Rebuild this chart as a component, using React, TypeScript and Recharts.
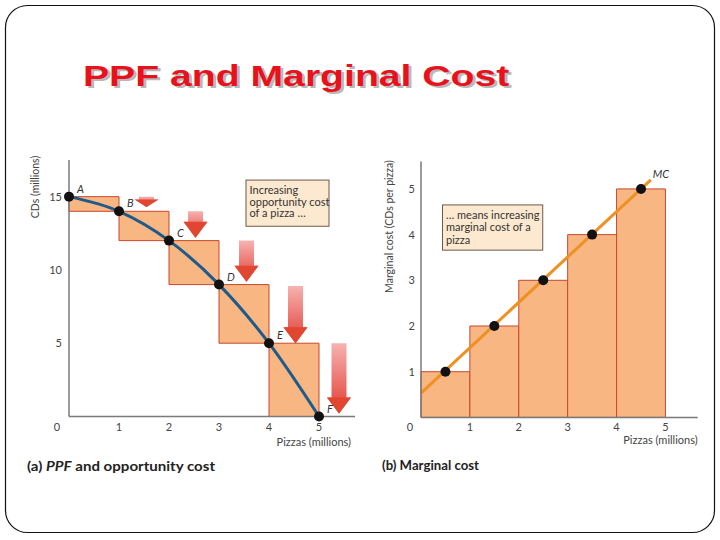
import React from 'react';
import {
  ComposedChart,
  Line,
  XAxis,
  YAxis,
  ReferenceArea,
  ReferenceLine,
  ReferenceDot,
  LabelList,
} from 'recharts';

// Panel (a): production possibilities frontier
const pizzas = [0, 1, 2, 3, 4, 5];
const cds = [15, 14, 12, 9, 5, 0];
const pointNames = ['A', 'B', 'C', 'D', 'E', 'F'];
const ppfXTicks = [0, 1, 2, 3, 4, 5];
const ppfYTicks = [5, 10, 15];

// Opportunity-cost arrows: centre x, top and bottom in CDs
const arrowX = [1.55, 2.53, 3.55, 4.53, 5.4];
const arrowTop = [15, 14, 12, 8.9, 5];
const arrowBottom = [14.3, 12.2, 9.2, 5.0, 0.2];

// Panel (b): marginal cost
const mcMidpoints = [0.5, 1.5, 2.5, 3.5, 4.5];
const mcValues = [1, 2, 3, 4, 5];
const mcLineStart = { x: 0, y: 0.53 };
const mcLineEnd = { x: 4.7, y: 5.2 };
const mcXTicks = [0, 1, 2, 3, 4, 5];
const mcYTicks = [1, 2, 3, 4, 5];

const ppfNote = ['Increasing', 'opportunity cost', 'of a pizza …'];
const mcNote = ['… means increasing', 'marginal cost of a', 'pizza'];

const ppfData = pizzas.map((p, i) => ({ pizzas: p, cds: cds[i], name: pointNames[i] }));
const mcData = mcMidpoints.map((x, i) => ({ x, mc: mcValues[i] }));

const FONT = 'Lato, "Open Sans", sans-serif';
const BOX_FILL = '#f8b682';
const BOX_STROKE = '#c9472f';
const AXIS = '#7a7a7a';
const TICK = '#444';
const AXIS_W = 30;

const makeXTick = (zeroShift: number) => (props: any) => {
  const { x, y, payload } = props;
  const dx = payload.value === 0 ? zeroShift : 0;
  return (
    <text x={x + dx} y={y + 14} textAnchor="middle" fontSize={11} fill={TICK} fontFamily={FONT}>
      {payload.value}
    </text>
  );
};

const makeYTick = (gap: number) => (props: any) => {
  const { x, y, payload } = props;
  return (
    <text x={x - gap} y={y + 4} textAnchor="end" fontSize={11} fill={TICK} fontFamily={FONT}>
      {payload.value}
    </text>
  );
};

const arrowShape = (id: string) => (props: any) => {
  const { x, y, width, height } = props;
  const cx = x + width / 2;
  const shaft = 7.5;
  const half = width / 2;
  const head = Math.min(16, height * 0.72);
  const neck = y + height - head;
  const pts = [
    [cx - shaft, y],
    [cx + shaft, y],
    [cx + shaft, neck],
    [cx + half, neck],
    [cx, y + height],
    [cx - half, neck],
    [cx - shaft, neck],
  ]
    .map((p) => p.join(','))
    .join(' ');
  return (
    <g>
      <defs>
        <linearGradient id={id} x1="0" y1="0" x2="0" y2="1">
          <stop offset="0%" stopColor="#f6b3b0" />
          <stop offset="70%" stopColor="#e9605a" />
          <stop offset="100%" stopColor="#de3a26" />
        </linearGradient>
      </defs>
      <polygon points={pts} fill={`url(#${id})`} />
      <polygon
        points={[
          [cx + half, neck],
          [cx, y + height],
          [cx - half, neck],
        ]
          .map((p) => p.join(','))
          .join(' ')}
        fill="#e04630"
      />
    </g>
  );
};

const noteShape = (lines: string[], lineGap: number) => (props: any) => {
  const { x, y, width, height } = props;
  return (
    <g>
      <rect x={x} y={y} width={width} height={height} fill="#fde9cf" stroke="#6b5a4a" strokeWidth={1} />
      {lines.map((t, i) => (
        <text
          key={i}
          x={x + 3.5}
          y={y + 14 + i * lineGap}
          fontSize={11}
          fill="#333"
          fontFamily={FONT}
        >
          {t}
        </text>
      ))}
    </g>
  );
};

const pointLabel = (props: any) => {
  const { x, y, value } = props;
  return (
    <text x={x + 8} y={y - 4} fontSize={11} fontStyle="italic" fill="#333" fontFamily={FONT}>
      {value}
    </text>
  );
};

// Axis titles are placed from the plot area edges handed in through viewBox
const xTitle = (text: string, dx: number, dy: number) => (props: any) => {
  const vb = props.viewBox || {};
  return (
    <text
      x={vb.x + vb.width + dx}
      y={vb.y + dy}
      textAnchor="end"
      fontSize={11}
      fill="#444"
      fontFamily={FONT}
    >
      {text}
    </text>
  );
};

const yTitle = (text: string, dx: number, cy: number) => (props: any) => {
  const vb = props.viewBox || {};
  const px = vb.x + vb.width + dx;
  const py = vb.y + cy;
  return (
    <text
      x={px}
      y={py}
      transform={`rotate(-90 ${px} ${py})`}
      textAnchor="middle"
      dominantBaseline="central"
      fontSize={10.5}
      fill="#444"
      fontFamily={FONT}
    >
      {text}
    </text>
  );
};

const mcTag = (props: any) => {
  const vb = props.viewBox || {};
  return (
    <text x={vb.x + 2} y={vb.y - 2} fontSize={11} fontStyle="italic" fill="#333" fontFamily={FONT}>
      MC
    </text>
  );
};

export default function App() {
  return (
    <div
      style={{
        position: 'absolute',
        left: 0,
        top: 0,
        width: 720,
        height: 540,
        background: '#fff',
        overflow: 'hidden',
      }}
    >
      {/* slide frame and captions */}
      <svg width={720} height={540} style={{ position: 'absolute', left: 0, top: 0 }}>
        <rect x={5.5} y={5.5} width={709} height={527} rx={22} ry={22} fill="none" stroke="#111" strokeWidth={1.2} />
        <text
          x={27}
          y={471}
          fontFamily={FONT}
          fontWeight="bold"
          fontSize={12.5}
          fill="#222"
          textLength={188}
          lengthAdjust="spacingAndGlyphs"
        >
          (a) <tspan fontStyle="italic">PPF</tspan> and opportunity cost
        </text>
        <text
          x={382}
          y={470}
          fontFamily={FONT}
          fontWeight="bold"
          fontSize={12.5}
          fill="#222"
          textLength={97}
          lengthAdjust="spacingAndGlyphs"
        >
          (b) Marginal cost
        </text>
      </svg>

      {/* slide title */}
      <div
        style={{
          position: 'absolute',
          left: 83,
          top: 58,
          fontFamily: '"Liberation Sans", Arial, sans-serif',
          fontWeight: 'bold',
          fontSize: 29,
          lineHeight: '36px',
          color: '#e8121c',
          textShadow: '2px 2px 0 #b9b9b9',
          whiteSpace: 'nowrap',
          transform: 'scaleX(1.35)',
          transformOrigin: 'left top',
        }}
      >
        PPF and Marginal Cost
      </div>

      {/* (a) PPF and opportunity cost */}
      <div style={{ position: 'absolute', left: 0, top: 0 }}>
        <ComposedChart
          width={720}
          height={540}
          data={ppfData}
          margin={{ left: 69 - AXIS_W, right: 365, top: 160, bottom: 123.5 - AXIS_W }}
        >
          <XAxis
            dataKey="pizzas"
            type="number"
            domain={[0, 5.72]}
            ticks={ppfXTicks}
            height={AXIS_W}
            tickSize={0}
            tickMargin={0}
            tick={makeXTick(-12)}
            axisLine={{ stroke: AXIS, strokeWidth: 1.5 }}
            tickLine={false}
            label={{ value: 'Pizzas (millions)', content: xTitle('Pizzas (millions)', -4, 29.5) }}
          />
          <YAxis
            type="number"
            domain={[0, 17.5]}
            ticks={ppfYTicks}
            width={AXIS_W}
            tickSize={0}
            tickMargin={0}
            tick={makeYTick(7)}
            axisLine={{ stroke: AXIS, strokeWidth: 1.5 }}
            tickLine={false}
            label={{ value: 'CDs (millions)', content: yTitle('CDs (millions)', -34, 27) }}
          />
          {pizzas.slice(0, -1).map((p, i) => (
            <ReferenceArea
              key={`step-${i}`}
              x1={p}
              x2={pizzas[i + 1]}
              y1={cds[i + 1]}
              y2={cds[i]}
              fill={BOX_FILL}
              fillOpacity={1}
              stroke={BOX_STROKE}
              strokeWidth={1}
            />
          ))}
          {arrowX.map((ax, i) => (
            <ReferenceArea
              key={`arrow-${i}`}
              x1={ax - 0.24}
              x2={ax + 0.24}
              y1={arrowBottom[i]}
              y2={arrowTop[i]}
              shape={arrowShape(`arrowGrad${i}`)}
            />
          ))}
          <ReferenceArea x1={3.54} x2={5.2} y1={12.98} y2={16.13} shape={noteShape(ppfNote, 11.7)} />
          <Line
            dataKey="cds"
            type="monotone"
            stroke="#1e5b8c"
            strokeWidth={3}
            dot={{ r: 5, fill: '#111', stroke: '#111', strokeWidth: 0 }}
            isAnimationActive={false}
          >
            <LabelList dataKey="name" content={pointLabel} />
          </Line>
        </ComposedChart>
      </div>

      {/* (b) Marginal cost */}
      <div style={{ position: 'absolute', left: 0, top: 0 }}>
        <ComposedChart
          width={720}
          height={540}
          data={mcData}
          margin={{ left: 421 - AXIS_W, right: 22.3, top: 161.5, bottom: 122.6 - AXIS_W }}
        >
          <XAxis
            dataKey="x"
            type="number"
            domain={[0, 5.66]}
            ticks={mcXTicks}
            height={AXIS_W}
            tickSize={0}
            tickMargin={0}
            tick={makeXTick(-11)}
            axisLine={{ stroke: AXIS, strokeWidth: 1.5 }}
            tickLine={false}
            label={{ value: 'Pizzas (millions)', content: xTitle('Pizzas (millions)', 0, 27) }}
          />
          <YAxis
            type="number"
            domain={[0, 5.6]}
            ticks={mcYTicks}
            width={AXIS_W}
            tickSize={0}
            tickMargin={0}
            tick={makeYTick(6)}
            axisLine={{ stroke: AXIS, strokeWidth: 1.5 }}
            tickLine={false}
            label={{
              value: 'Marginal cost (CDs per pizza)',
              content: yTitle('Marginal cost (CDs per pizza)', -32, 65),
            }}
          />
          {mcMidpoints.map((m, i) => (
            <ReferenceArea
              key={`bar-${i}`}
              x1={m - 0.5}
              x2={m + 0.5}
              y1={0}
              y2={mcValues[i]}
              fill={BOX_FILL}
              fillOpacity={1}
              stroke={BOX_STROKE}
              strokeWidth={1}
            />
          ))}
          <ReferenceArea x1={0.44} x2={2.49} y1={3.66} y2={4.65} shape={noteShape(mcNote, 12.5)} />
          <ReferenceLine
            segment={[mcLineStart, mcLineEnd]}
            stroke="#ef9022"
            strokeWidth={3}
          />
          <ReferenceDot
            x={mcLineEnd.x}
            y={mcLineEnd.y}
            r={0}
            fill="none"
            stroke="none"
            label={{ value: 'MC', content: mcTag }}
          />
          <Line
            dataKey="mc"
            stroke="none"
            dot={{ r: 5, fill: '#111', stroke: '#111', strokeWidth: 0 }}
            isAnimationActive={false}
          />
        </ComposedChart>
      </div>
    </div>
  );
}
